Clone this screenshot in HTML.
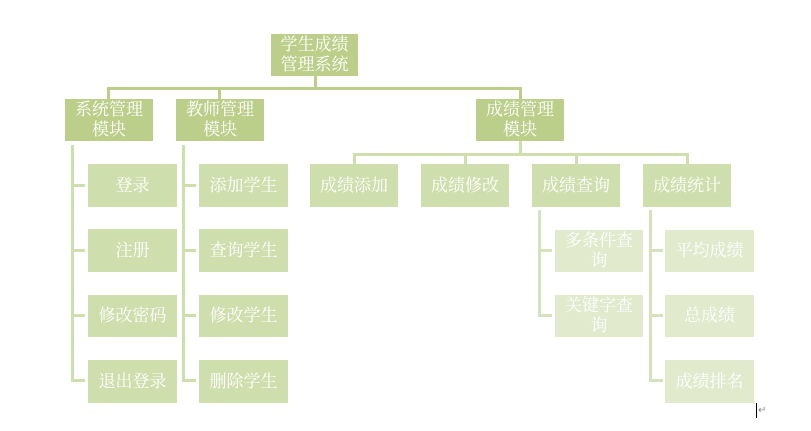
<!DOCTYPE html>
<html><head><meta charset="utf-8"><style>
body{margin:0;width:811px;height:431px;background:#fff;position:relative;overflow:hidden;font-family:"Liberation Serif","Noto Serif CJK SC",serif}
.b{position:absolute;display:flex;align-items:center;justify-content:center;text-align:center;color:#fff;font-size:17px;line-height:20px}
.a{background:#bccf8a}
.c{background:#cfdead}
.d{background:#e1eacd}
.l{position:absolute;background:#bccf8a}
.lc{position:absolute;background:#cfdead}
.ld{position:absolute;background:#d6e2bd}
</style></head><body>
<div class="b a" style="left:271px;top:34px;width:87px;height:42px">学生成绩<br>管理系统</div>
<div class="l" style="left:314px;top:76px;width:3px;height:13px"></div>
<div class="l" style="left:107px;top:87px;width:415px;height:3px"></div>
<div class="l" style="left:107px;top:87px;width:3px;height:12px"></div>
<div class="l" style="left:218px;top:87px;width:3px;height:12px"></div>
<div class="l" style="left:519px;top:87px;width:3px;height:12px"></div>
<div class="b a" style="left:65px;top:99px;width:88px;height:42px">系统管理<br>模块</div>
<div class="b a" style="left:176px;top:99px;width:88px;height:42px">教师管理<br>模块</div>
<div class="b a" style="left:476px;top:99px;width:88px;height:42px">成绩管理<br>模块</div>
<div class="lc" style="left:519px;top:141px;width:3px;height:14px"></div>
<div class="lc" style="left:353px;top:153px;width:336px;height:3px"></div>
<div class="lc" style="left:353px;top:153px;width:3px;height:11px"></div>
<div class="lc" style="left:464px;top:153px;width:3px;height:11px"></div>
<div class="lc" style="left:575px;top:153px;width:3px;height:11px"></div>
<div class="lc" style="left:686px;top:153px;width:3px;height:11px"></div>
<div class="b c" style="left:310px;top:164px;width:88px;height:43px">成绩添加</div>
<div class="b c" style="left:421px;top:164px;width:88px;height:43px">成绩修改</div>
<div class="b c" style="left:532px;top:164px;width:88px;height:43px">成绩查询</div>
<div class="b c" style="left:643px;top:164px;width:88px;height:43px">成绩统计</div>
<div class="lc" style="left:71px;top:145px;width:3px;height:237px"></div>
<div class="lc" style="left:71px;top:184px;width:14px;height:3px"></div>
<div class="lc" style="left:71px;top:249px;width:14px;height:3px"></div>
<div class="lc" style="left:71px;top:314px;width:14px;height:3px"></div>
<div class="lc" style="left:71px;top:379px;width:14px;height:3px"></div>
<div class="b c" style="left:88px;top:164px;width:89px;height:43px">登录</div>
<div class="b c" style="left:88px;top:229px;width:89px;height:43px">注册</div>
<div class="b c" style="left:88px;top:295px;width:89px;height:42px">修改密码</div>
<div class="b c" style="left:88px;top:360px;width:89px;height:43px">退出登录</div>
<div class="lc" style="left:182px;top:145px;width:3px;height:237px"></div>
<div class="lc" style="left:182px;top:184px;width:14px;height:3px"></div>
<div class="lc" style="left:182px;top:249px;width:14px;height:3px"></div>
<div class="lc" style="left:182px;top:314px;width:14px;height:3px"></div>
<div class="lc" style="left:182px;top:379px;width:14px;height:3px"></div>
<div class="b c" style="left:199px;top:164px;width:89px;height:43px">添加学生</div>
<div class="b c" style="left:199px;top:229px;width:89px;height:43px">查询学生</div>
<div class="b c" style="left:199px;top:295px;width:89px;height:42px">修改学生</div>
<div class="b c" style="left:199px;top:360px;width:89px;height:43px">删除学生</div>
<div class="ld" style="left:538px;top:210px;width:3px;height:107px"></div>
<div class="ld" style="left:538px;top:249px;width:14px;height:3px"></div>
<div class="ld" style="left:538px;top:314px;width:14px;height:3px"></div>
<div class="b d" style="left:555px;top:230px;width:88px;height:42px">多条件查<br>询</div>
<div class="b d" style="left:555px;top:295px;width:88px;height:42px">关键字查<br>询</div>
<div class="ld" style="left:649px;top:210px;width:3px;height:172px"></div>
<div class="ld" style="left:649px;top:249px;width:14px;height:3px"></div>
<div class="ld" style="left:649px;top:314px;width:14px;height:3px"></div>
<div class="ld" style="left:649px;top:379px;width:14px;height:3px"></div>
<div class="b d" style="left:665px;top:230px;width:89px;height:42px">平均成绩</div>
<div class="b d" style="left:665px;top:295px;width:89px;height:42px">总成绩</div>
<div class="b d" style="left:665px;top:360px;width:89px;height:43px">成绩排名</div>
<div style="position:absolute;left:756px;top:403px;width:1px;height:15px;background:#000"></div>
<div style="position:absolute;left:758px;top:405px;font-size:10px;color:#888">↵</div>
</body></html>
